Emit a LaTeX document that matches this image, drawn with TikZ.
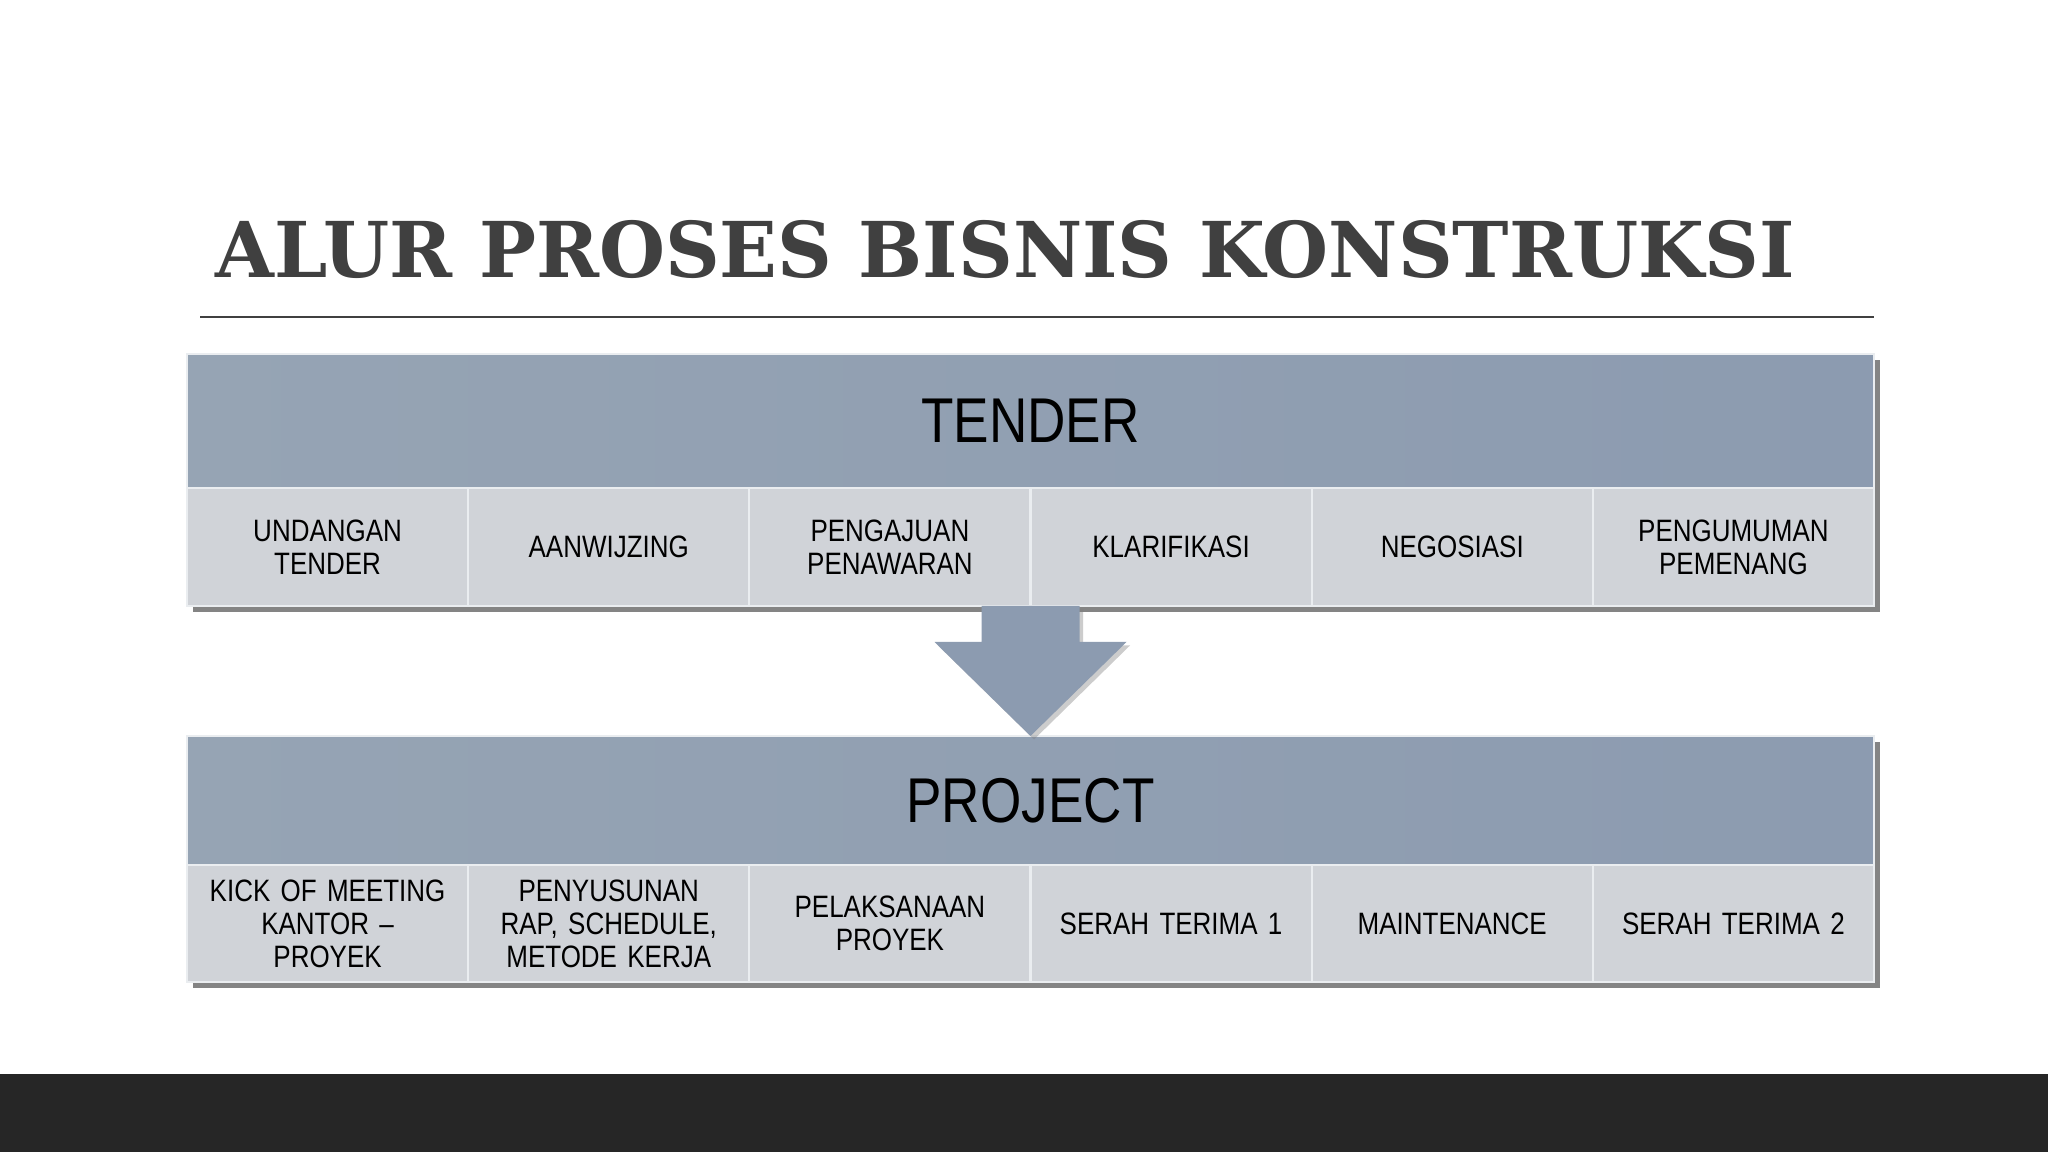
\documentclass[tikz,border=0pt]{standalone}
\usepackage{fontspec}
\usetikzlibrary{positioning,fit,shadows,backgrounds,calc}
\setmainfont{Liberation Sans}
\newfontfamily\titlefont[FakeStretch=0.985]{DejaVu Serif}
\newfontfamily\narrowfont[FakeStretch=0.84]{Liberation Sans}
\definecolor{titlegray}{RGB}{64,64,64}
\definecolor{headblue}{RGB}{140,155,176}
\definecolor{headblueleft}{RGB}{150,164,180}
\definecolor{cellgray}{RGB}{208,211,216}
\definecolor{celledge}{RGB}{234,237,240}
\definecolor{footdark}{RGB}{38,38,38}

\tikzset{
  headbox/.style={rectangle, minimum width=16.87cm, minimum height=1.31cm, inner sep=0pt,
    outer sep=0pt, left color=headblueleft, right color=headblue, draw=celledge,
    line width=0.5pt, font=\narrowfont\fontsize{18}{20}\selectfont},
  cellbox/.style={rectangle, minimum width=2.8117cm, minimum height=1.175cm, inner sep=0pt,
    outer sep=0pt, fill=cellgray, draw=celledge, line width=0.6pt, text width=2.75cm,
    align=center, font=\narrowfont\fontsize{8.8}{9.4}\selectfont},
  blockshadow/.style={inner sep=0pt, fill=cellgray,
    drop shadow={shadow xshift=1.6pt, shadow yshift=-1.8pt, opacity=.6, fill=black!80}},
}

\begin{document}
\begin{tikzpicture}
  \useasboundingbox (0,0) rectangle (20.48,11.52);

  % title
  \node[anchor=base west, inner sep=0pt, text=titlegray,
    font=\titlefont\bfseries\fontsize{21.9}{24}\selectfont] (title) at (2.15,8.74)
    {ALUR PROSES BISNIS KONSTRUKSI};
  \coordinate (rulel) at (2.00,8.35);
  \coordinate (ruler) at (18.74,8.35);
  \draw[titlegray, line width=0.6pt] (rulel) -- (ruler);

  % tender block
  \node[headbox, minimum height=1.34cm] (tender) at (10.305,7.31) {TENDER};
  \node[cellbox, minimum height=1.18cm, anchor=north west] (t1) at (tender.south west) {UNDANGAN\\TENDER};
  \node[cellbox, minimum height=1.18cm, right=0pt of t1] (t2) {AANWIJZING};
  \node[cellbox, minimum height=1.18cm, right=0pt of t2] (t3) {PENGAJUAN\\PENAWARAN};
  \node[cellbox, minimum height=1.18cm, right=0pt of t3] (t4) {KLARIFIKASI};
  \node[cellbox, minimum height=1.18cm, right=0pt of t4] (t5) {NEGOSIASI};
  \node[cellbox, minimum height=1.18cm, right=0pt of t5] (t6) {PENGUMUMAN\\PEMENANG};

  % project block
  \node[headbox, minimum height=1.29cm] (project) at (10.305,3.515) {PROJECT};
  \node[cellbox, minimum height=1.17cm, anchor=north west] (p1) at (project.south west) {KICK OF MEETING\\KANTOR –\\PROYEK};
  \node[cellbox, minimum height=1.17cm, right=0pt of p1] (p2) {PENYUSUNAN\\RAP, SCHEDULE,\\METODE KERJA};
  \node[cellbox, minimum height=1.17cm, right=0pt of p2] (p3) {PELAKSANAAN\\PROYEK};
  \node[cellbox, minimum height=1.17cm, right=0pt of p3] (p4) {SERAH TERIMA 1};
  \node[cellbox, minimum height=1.17cm, right=0pt of p4] (p5) {MAINTENANCE};
  \node[cellbox, minimum height=1.17cm, right=0pt of p5] (p6) {SERAH TERIMA 2};

  \begin{scope}[on background layer]
    \fill[white] (0,0) rectangle (20.48,11.52);
    % footer bar
    \fill[footdark] (0,0) rectangle (20.48,0.78);
    \node[fit=(tender)(t6), blockshadow] (tendershadow) {};
    \node[fit=(project)(p6), blockshadow] (projectshadow) {};
  \end{scope}

  % block arrow tender -> project
  \coordinate (atop) at (t3.south east);
  \coordinate (atip) at (project.north);
  \fill[headblue, drop shadow={shadow xshift=1pt, shadow yshift=-1pt, opacity=.4}]
    ($(atop)+(-0.49,0)$) -- ($(atop)+(0.49,0)$) -- ($(atip)+(0.49,0.94)$)
    -- ($(atip)+(0.96,0.94)$) -- (atip) -- ($(atip)+(-0.96,0.94)$)
    -- ($(atip)+(-0.49,0.94)$) -- cycle;
\end{tikzpicture}
\end{document}
